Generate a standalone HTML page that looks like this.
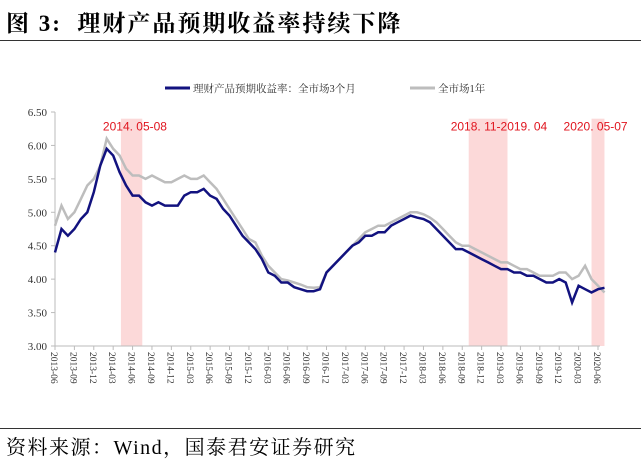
<!DOCTYPE html>
<html><head><meta charset="utf-8"><style>
body{margin:0;background:#fff;width:641px;height:464px;overflow:hidden;font-family:"Liberation Serif","Noto Serif CJK SC",serif}
</style></head><body>
<div style="position:absolute;left:6px;top:5px;font-size:23px;letter-spacing:2px;font-weight:bold;color:#000">图 3:&nbsp; 理财产品预期收益率持续下降</div>
<div style="position:absolute;left:0;top:40px;width:641px;height:1px;background:#333"></div>
<div style="position:absolute;left:0;top:428px;width:641px;height:1px;background:#333"></div>
<div style="position:absolute;left:6px;top:431px;font-size:20px;letter-spacing:1.5px;color:#000">资料来源：Wind，国泰君安证券研究</div>
<svg id="chart" width="641" height="464" style="position:absolute;left:0;top:0"></svg>
<script>
const tickLabels=["2013-06","2013-09","2013-12","2014-03","2014-06","2014-09","2014-12","2015-03","2015-06","2015-09","2015-12","2016-03","2016-06","2016-09","2016-12","2017-03","2017-06","2017-09","2017-12","2018-03","2018-06","2018-09","2018-12","2019-03","2019-06","2019-09","2019-12","2020-03","2020-06"];
const yTicks=[3.00,3.50,4.00,4.50,5.00,5.50,6.00,6.50];
const yield3m=[4.40,4.75,4.65,4.75,4.90,5.00,5.30,5.70,5.95,5.85,5.60,5.40,5.25,5.25,5.15,5.10,5.15,5.10,5.10,5.10,5.25,5.30,5.30,5.35,5.25,5.20,5.05,4.95,4.80,4.65,4.55,4.45,4.30,4.10,4.05,3.95,3.95,3.88,3.85,3.82,3.82,3.85,4.10,4.20,4.30,4.40,4.50,4.55,4.65,4.65,4.70,4.70,4.80,4.85,4.90,4.95,4.92,4.90,4.85,4.75,4.65,4.55,4.45,4.45,4.40,4.35,4.30,4.25,4.20,4.15,4.15,4.10,4.10,4.05,4.05,4.00,3.95,3.95,4.00,3.95,3.65,3.90,3.85,3.80,3.85,3.87];
const yield1y=[4.80,5.10,4.90,5.00,5.20,5.40,5.50,5.70,6.10,5.95,5.85,5.65,5.55,5.55,5.50,5.55,5.50,5.45,5.45,5.50,5.55,5.50,5.50,5.55,5.45,5.35,5.20,5.05,4.90,4.75,4.60,4.55,4.35,4.20,4.10,4.00,3.98,3.95,3.92,3.88,3.87,3.88,4.10,4.20,4.30,4.40,4.50,4.60,4.70,4.75,4.80,4.80,4.85,4.90,4.95,5.00,5.00,4.97,4.92,4.85,4.75,4.65,4.55,4.50,4.50,4.45,4.40,4.35,4.30,4.25,4.25,4.20,4.15,4.15,4.10,4.05,4.05,4.05,4.10,4.10,4.00,4.05,4.20,4.00,3.90,3.80];
const shadeStart=[10.2,64,83];
const shadeEnd=[13.5,70,85];
const shadeLabels=["2014. 05-08","2018. 11-2019. 04","2020. 05-07"];
const svg=document.getElementById('chart');const NS='http://www.w3.org/2000/svg';
const x=m=>55+m*(543/84);const y=v=>346-(v-3)*(234/3.5);
function mk(t,a){const e=document.createElementNS(NS,t);for(const k in a)e.setAttribute(k,a[k]);svg.appendChild(e);return e;}
shadeStart.forEach((s,i)=>{
const r=mk('rect',{x:x(s),y:y(6.4),width:x(shadeEnd[i])-x(s),height:y(3)-y(6.4),fill:'#fcd9d9'});


const t=mk('text',{x:i==2?x(s)-28:x(s)-18,y:y(6.22),fill:'#e0141e','font-size':'12','font-family':'Liberation Sans, sans-serif'});t.textContent=shadeLabels[i];


});
const ax=mk('line',{x1:55,y1:y(3),x2:55,y2:y(6.5),stroke:'#bbb'});


const bx=mk('line',{x1:55,y1:y(3),x2:600,y2:y(3),stroke:'#bbb'});


yTicks.forEach(v=>{
mk('line',{x1:51,x2:55,y1:y(v),y2:y(v),stroke:'#bbb'});
const t=mk('text',{x:47,y:y(v)+4,'text-anchor':'end','font-size':'11',fill:'#333'});t.textContent=v.toFixed(2);


});
tickLabels.forEach((l,i)=>{
const xx=x(i*3);mk('line',{x1:xx,x2:xx,y1:y(3),y2:y(3)+4,stroke:'#bbb'});
const t=mk('text',{x:xx-4,y:352,'font-size':'9.5',fill:'#333',transform:`rotate(90 ${xx-4} 352)`});t.textContent=l;


});
function path(d){return d.map((v,i)=>(i?'L':'M')+x(i).toFixed(1)+','+y(v).toFixed(1)).join('');}
const g=mk('path',{d:path(yield1y),fill:'none',stroke:'#bdbdbd','stroke-width':'2.5'});


const b=mk('path',{d:path(yield3m),fill:'none',stroke:'#12127f','stroke-width':'2.5'});


mk('line',{x1:165,x2:190,y1:88,y2:88,stroke:'#12127f','stroke-width':'3'});
const l1=mk('text',{x:193,y:92,'font-size':'10.5',fill:'#333'});l1.textContent='理财产品预期收益率：全市场3个月';


mk('line',{x1:410,x2:435,y1:88,y2:88,stroke:'#bdbdbd','stroke-width':'3'});
const l2=mk('text',{x:438,y:92,'font-size':'10.5',fill:'#333'});l2.textContent='全市场1年';


</script>
</body></html>
